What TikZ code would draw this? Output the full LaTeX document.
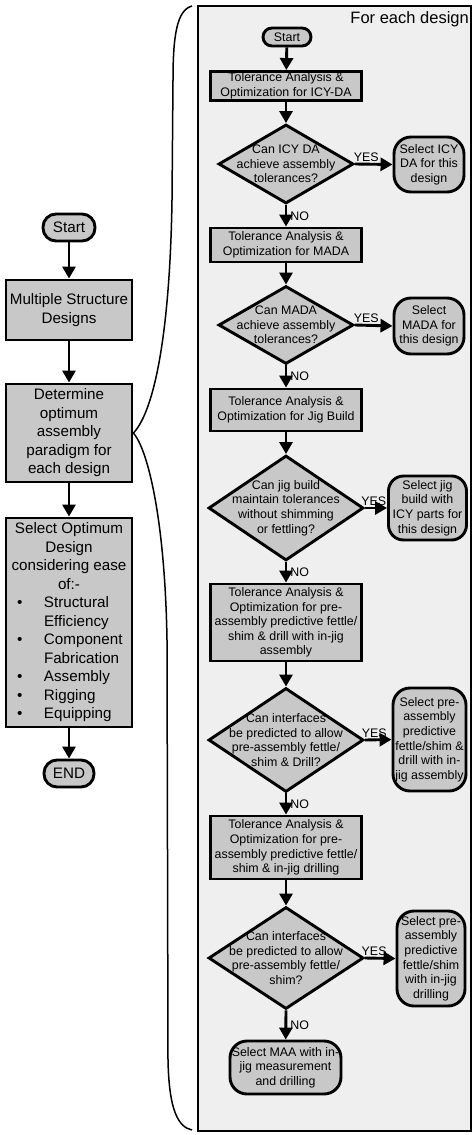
\documentclass[tikz,border=0pt]{standalone}
\usepackage{fontspec}
\setmainfont{Liberation Sans}
\usetikzlibrary{shapes.geometric,arrows.meta}
\definecolor{boxgray}{HTML}{C8C8C8}
\definecolor{framegray}{HTML}{EFEFEF}
\newcommand\blt[1]{\makebox[104pt][l]{\makebox[27pt][l]{\textbullet}#1}}
\newcommand\bcont[1]{\makebox[104pt][l]{\hspace{27pt}#1}}
\begin{document}
\begin{tikzpicture}[x=1pt,y=-1pt,
  every node/.style={inner sep=0pt},
  ifont/.style={font=\fontsize{12.4}{14.6}\selectfont},
  lfont/.style={font=\fontsize{15.2}{18.5}\selectfont},
  ibox/.style={draw,line width=2.9pt,fill=boxgray,align=center,ifont},
  iround/.style={ibox,rounded corners=17pt},
  iterm/.style={ibox,rounded corners=9pt},
  dia/.style={diamond,draw,line width=2.9pt,fill=boxgray},
  dtext/.style={align=center,ifont},
  lbox/.style={draw,line width=2.9pt,fill=boxgray,align=center,lfont},
  lterm/.style={lbox,rounded corners=13pt},
  arr/.style={line width=2.9pt,-{Triangle[length=12pt,width=13pt]}},
  lab/.style={ifont},
  brace/.style={line width=1.5pt}
]
\useasboundingbox (0,0) rectangle (474,1135);
% frame
\node[draw,line width=2.5pt,fill=framegray,minimum width=273pt,minimum height=1125pt] (frame) at (334.25,568.5) {};
\node[anchor=east,font=\fontsize{16.5}{19}\selectfont] (fed) at (469,19) {For each design};

% inner flow
\node[iterm,minimum width=48pt,minimum height=18pt] (st2) at (287,37) {Start};
\node[ibox,minimum width=151pt,minimum height=29pt] (b1) at (286,86) {Tolerance Analysis \&\\Optimization for ICY-DA};
\node[dia,minimum width=135pt,minimum height=79pt] (d1) at (286,164) {};
\node[dtext] (d1t) at (d1) {Can ICY DA\\achieve assembly\\tolerances?};
\node[iround,minimum width=70pt,minimum height=55pt] (s1) at (429,164.5) {Select ICY\\DA for this\\design};

\node[ibox,minimum width=151pt,minimum height=34pt] (b2) at (286,245) {Tolerance Analysis \&\\Optimization for MADA};
\node[dia,minimum width=135pt,minimum height=78pt] (d2) at (286,325) {};
\node[dtext] (d2t) at (d2) {Can MADA\\achieve assembly\\tolerances?};
\node[iround,minimum width=70pt,minimum height=56pt] (s2) at (429,326) {Select\\MADA for\\this design};

\node[ibox,minimum width=151pt,minimum height=42pt] (b3) at (286,410) {Tolerance Analysis \&\\Optimization for Jig Build};
\node[dia,minimum width=155pt,minimum height=105pt] (d3) at (286,508) {};
\node[dtext] (d3t) at (d3) {Can jig build\\maintain tolerances\\without shimming\\or fettling?};
\node[iround,minimum width=78pt,minimum height=64pt,rounded corners=15pt] (s3) at (427.5,508) {Select jig\\build with\\ICY parts for\\this design};

\node[ibox,minimum width=151pt,minimum height=77pt] (b4) at (286,622.5) {Tolerance Analysis \&\\Optimization for pre-\\assembly predictive fettle/\\shim \& drill with in-jig\\assembly};
\node[dia,minimum width=155pt,minimum height=104pt] (d4) at (286,740) {};
\node[dtext] (d4t) at (d4) {Can interfaces\\be predicted to allow\\pre-assembly fettle/\\shim \& Drill?};
\node[iround,minimum width=73pt,minimum height=103pt] (s4) at (429.5,739.5) {Select pre-\\assembly\\predictive\\fettle/shim \&\\drill with in-\\jig assembly};

\node[ibox,minimum width=151pt,minimum height=63pt] (b5) at (286,847.5) {Tolerance Analysis \&\\Optimization for pre-\\assembly predictive fettle/\\shim \& in-jig drilling};
\node[dia,minimum width=155pt,minimum height=102pt] (d5) at (286,958) {};
\node[dtext] (d5t) at (d5) {Can interfaces\\be predicted to allow\\pre-assembly fettle/\\shim?};
\node[iround,minimum width=68pt,minimum height=95pt] (s5) at (431,958.5) {Select pre-\\assembly\\predictive\\fettle/shim\\with in-jig\\drilling};

\node[iround,minimum width=111pt,minimum height=53pt] (s6) at (285.5,1067.5) {Select MAA with in-\\jig measurement\\and drilling};

% inner arrows
\draw[arr] (st2) -- (b1);
\draw[arr] (b1) -- (d1.north);
\draw[arr] (d1.south) -- node[lab,anchor=west,xshift=3pt] (n1) {NO} (b2);
\draw[arr] (b2) -- (d2.north);
\draw[arr] (d2.south) -- node[lab,anchor=west,xshift=3pt] (n2) {NO} (b3);
\draw[arr] (b3) -- (d3.north);
\draw[arr] (d3.south) -- node[lab,anchor=west,xshift=3pt] (n3) {NO} (b4);
\draw[arr] (b4) -- (d4.north);
\draw[arr] (d4.south) -- node[lab,anchor=west,xshift=3pt] (n4) {NO} (b5);
\draw[arr] (b5) -- (d5.north);
\draw[arr] (d5.south) -- node[lab,anchor=west,xshift=3pt] (n5) {NO} (s6);

\draw[arr] (d1.east) -- node[lab,anchor=south,pos=0.3,yshift=1pt] (y1) {YES} (s1.west);
\draw[arr] (d2.east) -- node[lab,anchor=south,pos=0.3,yshift=1pt] (y2) {YES} (s2.west);
\draw[arr] (d3.east) -- node[lab,anchor=south,pos=0.4,yshift=1pt] (y3) {YES} (s3.west);
\draw[arr] (d4.east) -- node[lab,anchor=south,pos=0.35,yshift=1pt] (y4) {YES} (s4.west);
\draw[arr] (d5.east) -- node[lab,anchor=south,pos=0.3,yshift=1pt] (y5) {YES} (s5.west);

% left column
\node[lterm,minimum width=52pt,minimum height=27pt] (ls) at (69,227.5) {Start};
\node[lbox,minimum width=126pt,minimum height=60pt] (lb1) at (69,310) {Multiple Structure\\Designs};
\node[lbox,minimum width=126pt,minimum height=98pt] (lb2) at (69,433) {Determine\\optimum\\assembly\\paradigm for\\each design};
\node[lbox,minimum width=126pt,minimum height=209pt] (lb3) at (69,622.5) {Select Optimum\\Design\\considering ease\\of:-\\\blt{Structural}\\\bcont{Efficiency}\\\blt{Component}\\\bcont{Fabrication}\\\blt{Assembly}\\\blt{Rigging}\\\blt{Equipping}};
\node[lterm,minimum width=50pt,minimum height=27pt] (lend) at (69,773.5) {END};

\draw[arr] (ls) -- (lb1);
\draw[arr] (lb1) -- (lb2);
\draw[arr] (lb2) -- (lb3);
\draw[arr] (lb3) -- (lend);

% brace
\draw[brace] (192,6) .. controls (177,10) and (173,35) .. (173,80) -- (172,200)
  .. controls (170,330) and (155,410) .. (lb2.east)
  .. controls (148,450) and (165,520) .. (167,640) -- (168,1060)
  .. controls (169,1110) and (178,1127) .. (192,1130);
\end{tikzpicture}
\end{document}
